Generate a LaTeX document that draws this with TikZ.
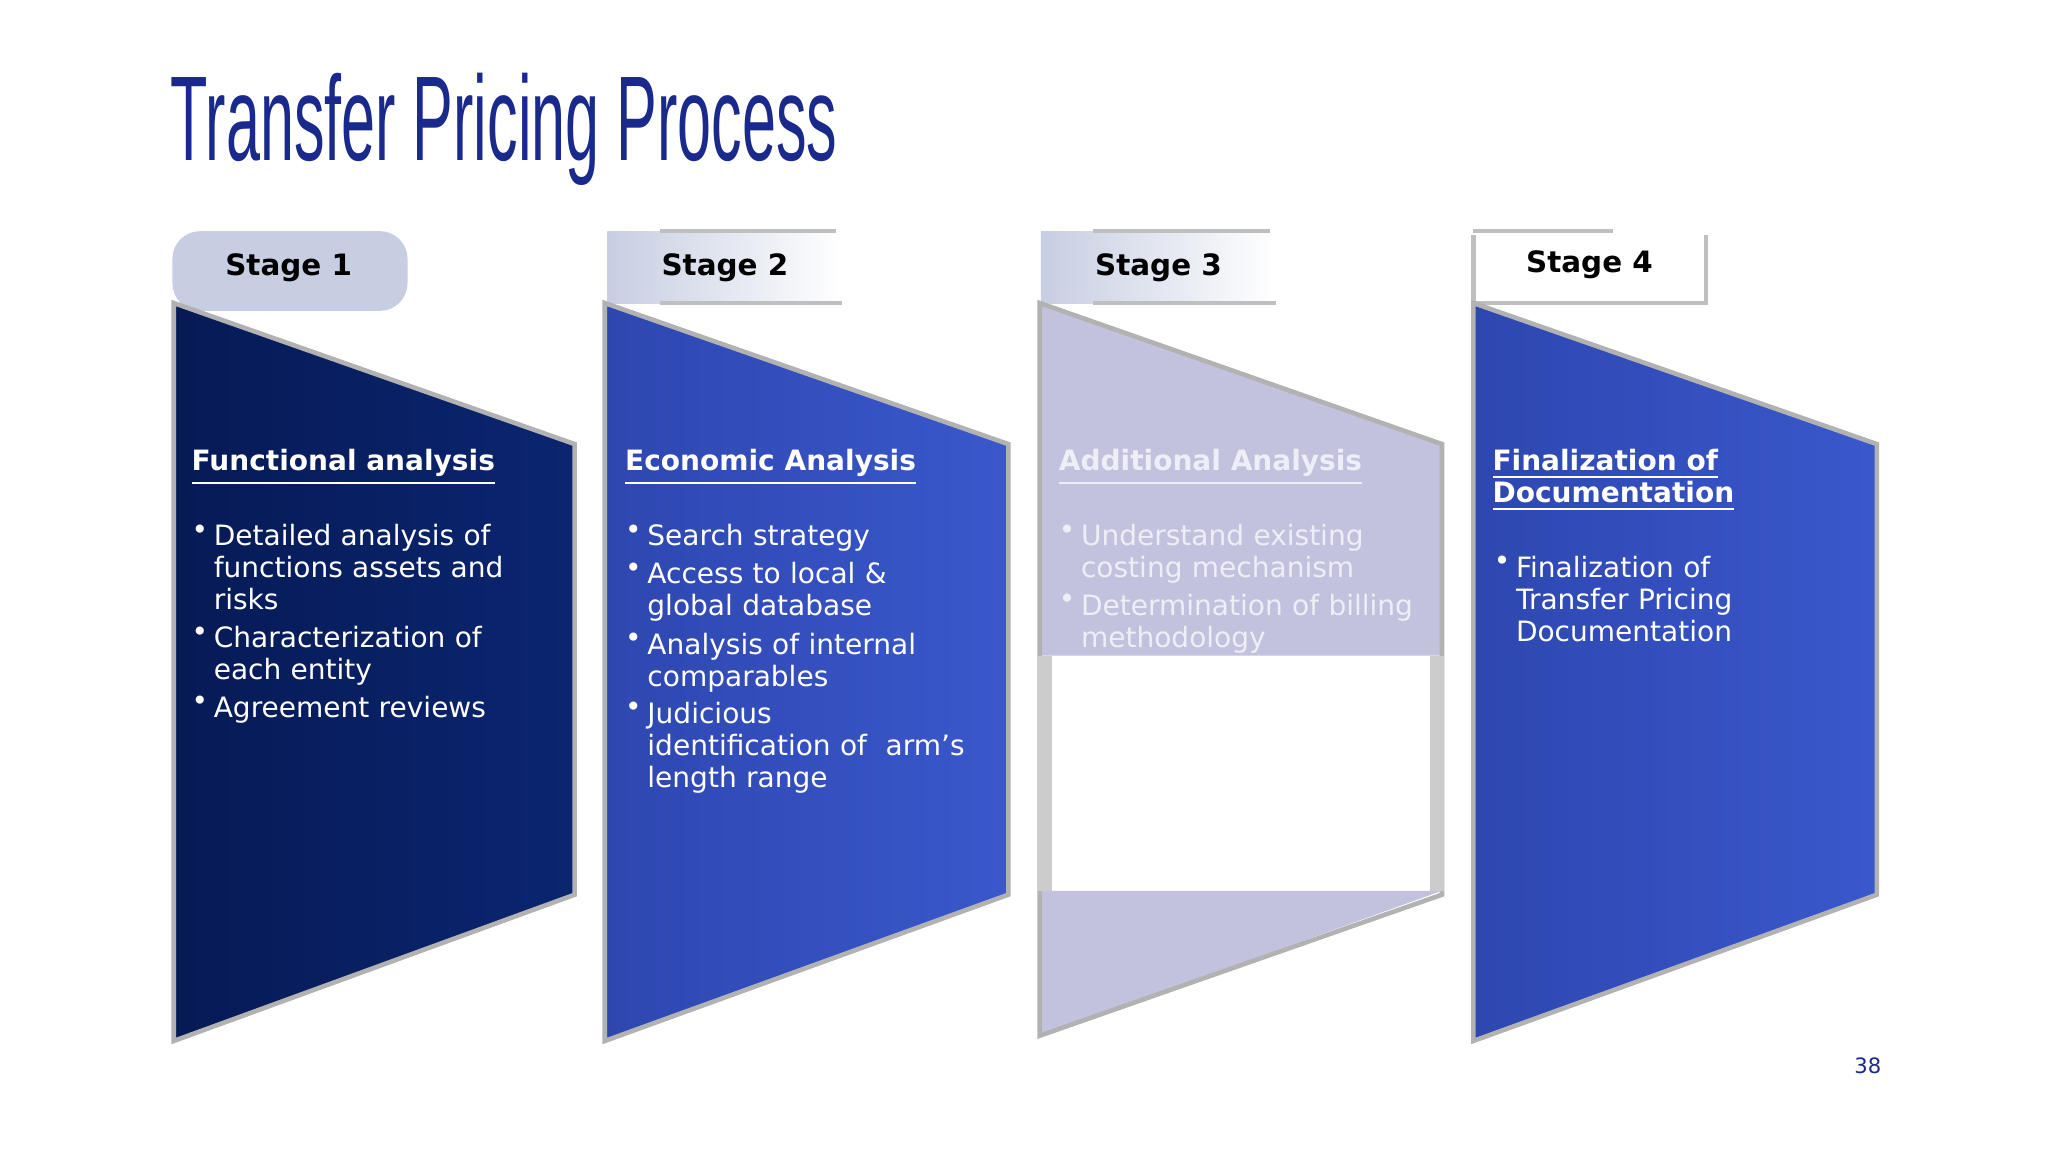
\documentclass[tikz,border=0pt]{standalone}
\usepackage{fontspec}
\setmainfont{DejaVu Sans}
\newfontfamily\titlefont{Liberation Sans}
\usetikzlibrary{shadings}
\hyphenpenalty=10000
\exhyphenpenalty=10000
\definecolor{titleblue}{HTML}{1A2A8C}
\definecolor{navy}{HTML}{0B2570}
\definecolor{navyd}{HTML}{061A55}
\definecolor{mblue}{HTML}{3A58CC}
\definecolor{mblued}{HTML}{2E47B0}
\definecolor{lav}{HTML}{C2C2DE}
\definecolor{tabc}{HTML}{C7CEE2}
\definecolor{s3txt}{HTML}{EEEEF6}
\tikzset{
  txt/.style={font=\fontsize{6.1}{6.95}\selectfont, align=left, inner sep=0pt, anchor=north west, text=white},
  hdr/.style={font=\fontsize{6.1}{6.95}\selectfont\bfseries, align=left, inner sep=0pt, anchor=north west, text=white},
  tab/.style={font=\fontsize{6.4}{7.5}\selectfont\bfseries, text=black},
  edge/.style={draw=gray!70, line width=1pt}
}
\newcommand{\bul}[5][white]{\node[txt,text=#1] at (#2-17,#3) {•};\node[txt,text=#1,text width=#5] at (#2,#3) {#4};}
\begin{document}
\begin{tikzpicture}[x=0.01cm,y=-0.01cm]
\useasboundingbox (0,0) rectangle (1568,882);
\fill[white] (0,0) rectangle (1568,882);
\node[anchor=north west, inner sep=0pt, text=titleblue] (title) at (130,55) {\resizebox*{5.1cm}{0.86cm}{\titlefont Transfer Pricing Process}};
% stage 1
\fill[tabc, rounded corners=6] (132,177) rectangle (312,238);
\node[tab] (t1) at (221,205) {Stage 1};
\shade[left color=navyd, right color=navy, draw=gray!60, line width=1pt] (133,232) -- (440,340) -- (440,685) -- (133,797) -- cycle;
% stage 2
\shade[left color=tabc, right color=white] (465,177) rectangle (645,232);
\draw[gray!50, line width=1pt] (505,177) -- (640,177) (505,232) -- (645,232);
\node[tab] (t2) at (555,205) {Stage 2};
\shade[left color=mblued, right color=mblue, draw=gray!60, line width=1pt] (463,232) -- (772,340) -- (772,685) -- (463,797) -- cycle;
% stage 3
\shade[left color=tabc, right color=white] (797,177) rectangle (977,232);
\draw[gray!50, line width=1pt] (837,177) -- (972,177) (837,232) -- (977,232);
\node[tab] (t3) at (887,205) {Stage 3};
\fill[lav] (796,232) -- (1104,340) -- (1104,502) -- (796,502) -- cycle;
\fill[lav] (796,682) -- (1104,682) -- (796,793) -- cycle;
\draw[gray!60, line width=1pt] (796,232) -- (1104,340) -- (1104,685) -- (796,793) -- cycle;
\draw[gray!40, line width=3pt] (800,502) -- (800,682) (1100,502) -- (1100,682);
% stage 4
\fill[white] (1128,177) rectangle (1306,232);
\draw[gray!50, line width=1pt] (1128,177) -- (1235,177) (1306,180) -- (1306,232) -- (1128,232) -- (1128,180);
\node[tab] (t4) at (1217,203) {Stage 4};
\shade[left color=mblued, right color=mblue, draw=gray!60, line width=1pt] (1128,232) -- (1437,340) -- (1437,685) -- (1128,797) -- cycle;
% texts
\node[hdr] (h1) at (146,343) {\underline{Functional analysis}};
\bul{163}{401}{Detailed analysis of functions assets and risks}{2.6cm}
\bul{163}{479}{Characterization of each entity}{2.6cm}
\bul{163}{532}{Agreement reviews}{2.6cm}
\node[hdr] (h2) at (478,343) {\underline{Economic Analysis}};
\bul{495}{401}{Search strategy}{2.7cm}
\bul{495}{430}{Access to local \&\\global database}{2.7cm}
\bul{495}{484}{Analysis of internal comparables}{2.7cm}
\bul{495}{537}{Judicious\\identification of~ arm’s length range}{2.7cm}
\node[hdr,text=s3txt] (h3) at (810,343) {\underline{Additional Analysis}};
\bul[s3txt]{827}{401}{Understand existing costing mechanism}{2.6cm}
\bul[s3txt]{827}{454}{Determination of billing methodology}{2.6cm}
\node[hdr] (h4) at (1142,343) {\underline{Finalization of}\\\underline{Documentation}};
\bul{1160}{425}{Finalization of Transfer Pricing Documentation}{2.2cm}
\node[font=\fontsize{4.6}{5.5}\selectfont, text=titleblue] (pg) at (1430,816) {38};
\end{tikzpicture}
\end{document}
